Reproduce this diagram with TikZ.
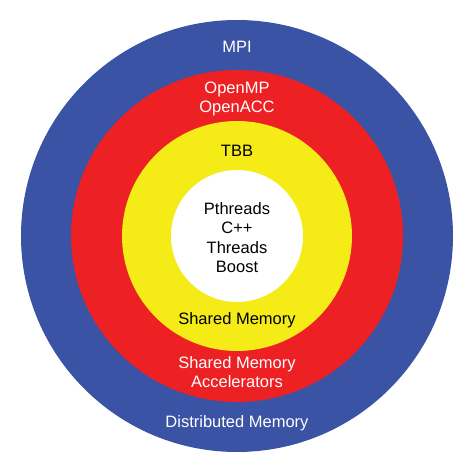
\documentclass[tikz,border=0pt]{standalone}
\usepackage{fontspec}
\setmainfont{Liberation Sans}
\definecolor{ringblue}{RGB}{58,83,164}
\definecolor{ringred}{RGB}{237,32,36}
\definecolor{ringyellow}{RGB}{245,235,22}
\begin{document}
\begin{tikzpicture}[x=1pt,y=1pt,
  ring/.style={circle,inner sep=0pt,draw=none},
  lbl/.style={anchor=base,align=center,inner sep=0pt,font=\fontsize{16.5}{19.45}\selectfont}]
\useasboundingbox (0,0) rectangle (474,474);
\fill[white] (0,0) rectangle (474,474);
\node[ring,fill=ringblue,minimum size=432pt] (blue) at (237,238) {};
\node[ring,fill=ringred,minimum size=332pt] (red) at (237,238) {};
\node[ring,fill=ringyellow,minimum size=230pt] (yellow) at (237,238) {};
\node[ring,fill=white,minimum size=132pt] (core) at (237,238) {};
\node[lbl,text=white] (mpi) at (237,421.4) {MPI};
\node[lbl,text=white] (omp) at (237,361.4) {OpenMP\\OpenACC};
\node[lbl,text=black] (tbb) at (237,317.1) {TBB};
\node[lbl,text=black] (pth) at (237,201.4) {Pthreads\\C++\\Threads\\Boost};
\node[lbl,text=black] (shm) at (237,149.8) {Shared Memory};
\node[lbl,text=white] (shacc) at (237,86.1) {Shared Memory\\Accelerators};
\node[lbl,text=white] (dist) at (237,46.4) {Distributed Memory};
\end{tikzpicture}
\end{document}
